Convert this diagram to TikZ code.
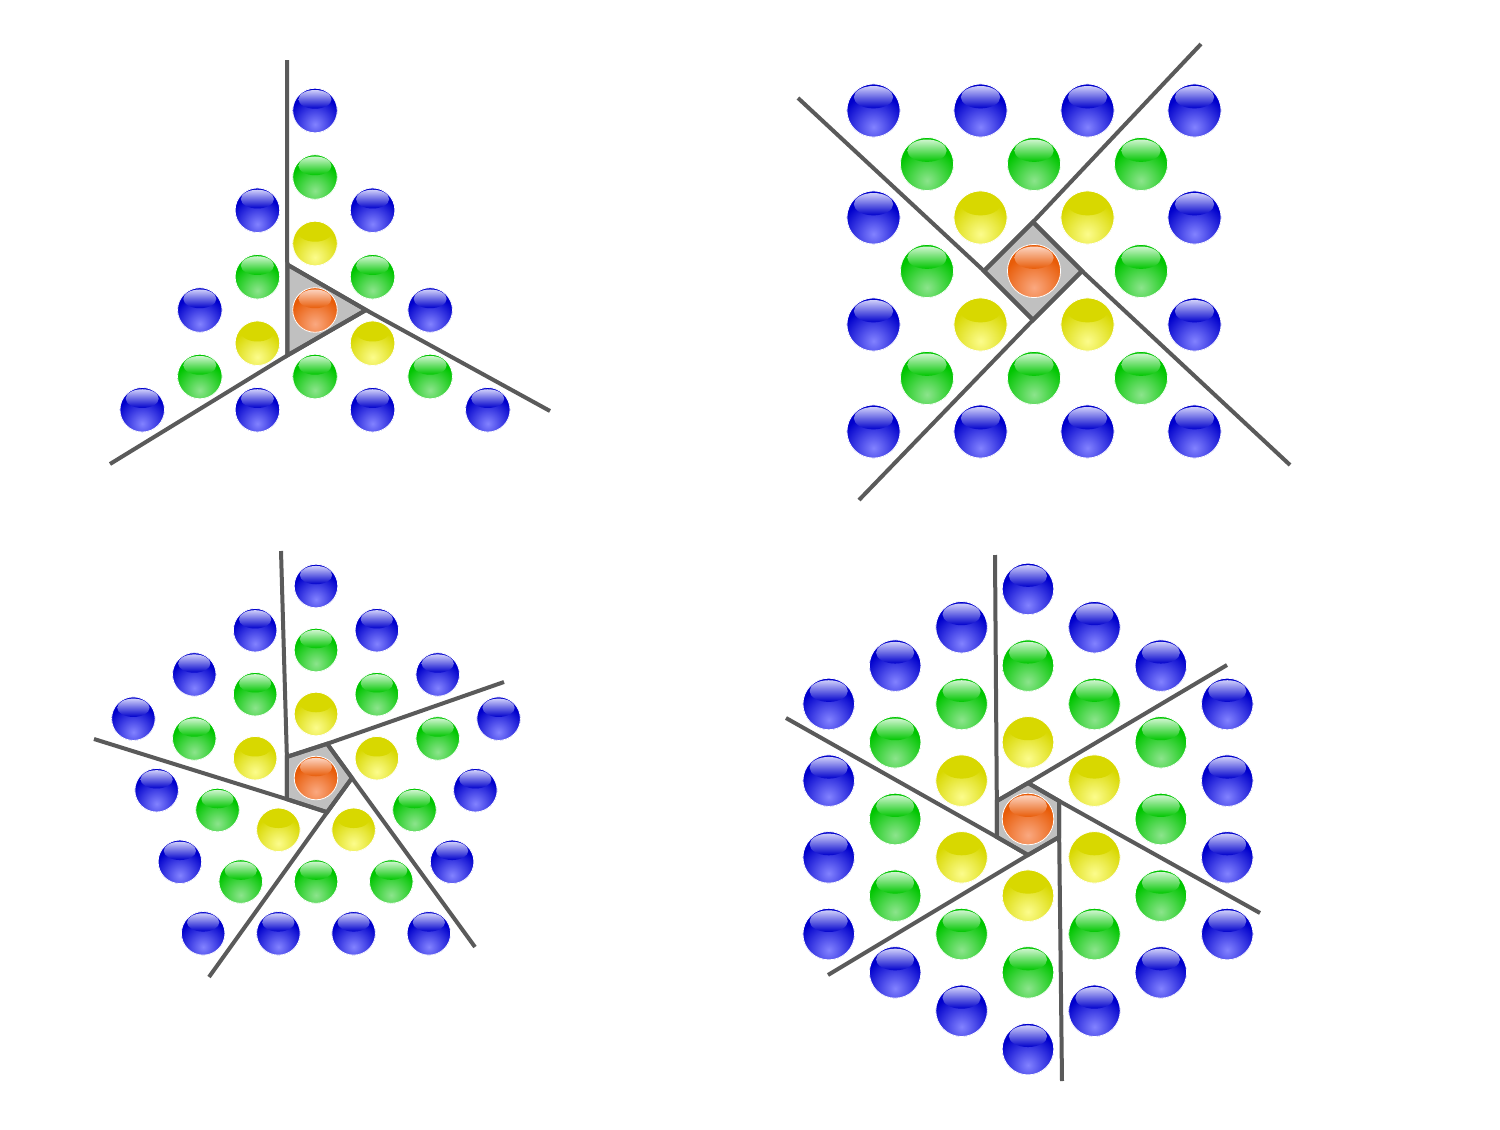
\documentclass[tikz,border=0pt]{standalone}
\usepackage{tikz}
\definecolor{lnc}{RGB}{90,90,90}
\definecolor{polyc}{RGB}{192,192,192}
\definecolor{bbase}{RGB}{0,0,204}
\definecolor{bglow}{RGB}{130,130,255}
\definecolor{bhi}{RGB}{205,205,250}
\definecolor{gbase}{RGB}{0,198,0}
\definecolor{gglow}{RGB}{140,228,140}
\definecolor{ghi}{RGB}{205,245,205}
\definecolor{ybase}{RGB}{216,216,0}
\definecolor{yglow}{RGB}{252,252,140}
\definecolor{obase}{RGB}{232,92,8}
\definecolor{oglow}{RGB}{250,168,128}
\definecolor{ohi}{RGB}{252,210,190}
\newcommand\myball[6]{%
 \begin{scope}[shift={(#1,#2)}]
  \fill[#4] (0pt,0pt) circle ({#3pt});
  \begin{scope}
   \clip (0pt,0pt) circle ({#3pt});
   \shade[inner color=#5, outer color=#4] (0pt,{-0.62*#3pt}) circle ({1.25*#3pt});
   \shade[top color=#6, bottom color=#4] (0pt,{0.5*#3pt}) ellipse ({0.74*#3pt} and {0.42*#3pt});
  \end{scope}
  \draw[white, line width=0.8pt] (0pt,0pt) circle ({#3pt});
 \end{scope}}
\newcommand\mypanel[6]{%
 \foreach \k/\bc/\gc/\hc in {1/ybase/yglow/ybase,2/gbase/gglow/ghi,3/bbase/bglow/bhi}{%
  \pgfmathtruncatemacro\km{\k-1}%
  \foreach \i in {1,...,#3}{%
   \foreach \j in {0,...,\km}{%
     \pgfmathsetmacro\ta{#4+360*(\i-1)/#3}%
     \pgfmathsetmacro\tb{#4+360*\i/#3}%
     \pgfmathsetmacro\px{#1+\k*#5*((1-\j/\k)*cos(\ta)+(\j/\k)*cos(\tb))}%
     \pgfmathsetmacro\py{#2-\k*#5*((1-\j/\k)*sin(\ta)+(\j/\k)*sin(\tb))}%
     \myball{\px}{\py}{#6}{\bc}{\gc}{\hc}%
   }}}%
 \myball{#1}{#2}{#6}{obase}{oglow}{ohi}}
\newcommand\mypoly[6]{% name cx cy n theta0 R
 \pgfmathtruncatemacro\nm{#4-1}%
 \foreach \i in {0,...,\nm}{%
   \pgfmathsetmacro\vx{#2+#6*cos(#5+360*\i/#4)}%
   \pgfmathsetmacro\vy{#3-#6*sin(#5+360*\i/#4)}%
   \coordinate (#1\i) at (\vx,\vy);}}
\tikzset{
  polyfill/.style={fill=polyc, draw=lnc, line width=4pt, line join=miter},
  spoke/.style={draw=lnc, line width=4pt, line join=miter}
}
\begin{document}
\begin{tikzpicture}[x=1pt,y=-1pt]
\useasboundingbox (0,0) rectangle (1500,1130);
\fill[white] (0,0) rectangle (1500,1130);
% ---------- triangle
\mypoly{T}{313.5}{310}{3}{0}{52.5}
\coordinate (TE1) at (287,60);
\coordinate (TE2) at (550,411);
\coordinate (TE3) at (110,464);
\path[polyfill] (T0) -- (T1) -- (T2) -- cycle;
\draw[spoke] (T2) -- (T1) -- (TE1);
\draw[spoke] (T1) -- (T0) -- (TE2);
\draw[spoke] (T0) -- (T2) -- (TE3);
\mypanel{315}{310}{3}{90}{66.5}{22.3}
% ---------- square
\mypoly{S}{1033}{271}{4}{90}{49}
\coordinate (SE1) at (1201,44);
\coordinate (SE2) at (1290,465);
\coordinate (SE3) at (859,500);
\coordinate (SE4) at (798,98);
\path[polyfill] (S0) -- (S1) -- (S2) -- (S3) -- cycle;
\draw[spoke] (S1) -- (S0) -- (SE1);
\draw[spoke] (S0) -- (S3) -- (SE2);
\draw[spoke] (S3) -- (S2) -- (SE3);
\draw[spoke] (S2) -- (S1) -- (SE4);
\mypanel{1034}{271}{4}{45}{75.66}{26.6}
% ---------- pentagon
\mypoly{P}{316}{778}{5}{0}{36}
\coordinate (PE1) at (281,551);
\coordinate (PE2) at (504,682);
\coordinate (PE3) at (475,947);
\coordinate (PE4) at (209,977);
\coordinate (PE5) at (94,739);
\path[polyfill] (P0) -- (P1) -- (P2) -- (P3) -- (P4) -- cycle;
\draw[spoke] (P3) -- (P2) -- (PE1);
\draw[spoke] (P2) -- (P1) -- (PE2);
\draw[spoke] (P1) -- (P0) -- (PE3);
\draw[spoke] (P0) -- (P4) -- (PE4);
\draw[spoke] (P4) -- (P3) -- (PE5);
\mypanel{316}{778}{5}{90}{64}{21.8}
% ---------- hexagon
\mypoly{H}{1028}{819}{6}{30}{36}
\coordinate (HE1) at (995,555);
\coordinate (HE2) at (1227,665);
\coordinate (HE3) at (1260,913);
\coordinate (HE4) at (1062,1081);
\coordinate (HE5) at (828,975);
\coordinate (HE6) at (786,718);
\path[polyfill] (H0) -- (H1) -- (H2) -- (H3) -- (H4) -- (H5) -- cycle;
\draw[spoke] (H3) -- (H2) -- (HE1);
\draw[spoke] (H2) -- (H1) -- (HE2);
\draw[spoke] (H1) -- (H0) -- (HE3);
\draw[spoke] (H0) -- (H5) -- (HE4);
\draw[spoke] (H5) -- (H4) -- (HE5);
\draw[spoke] (H4) -- (H3) -- (HE6);
\mypanel{1028}{819}{6}{90}{76.7}{25.8}
\end{tikzpicture}
\end{document}
